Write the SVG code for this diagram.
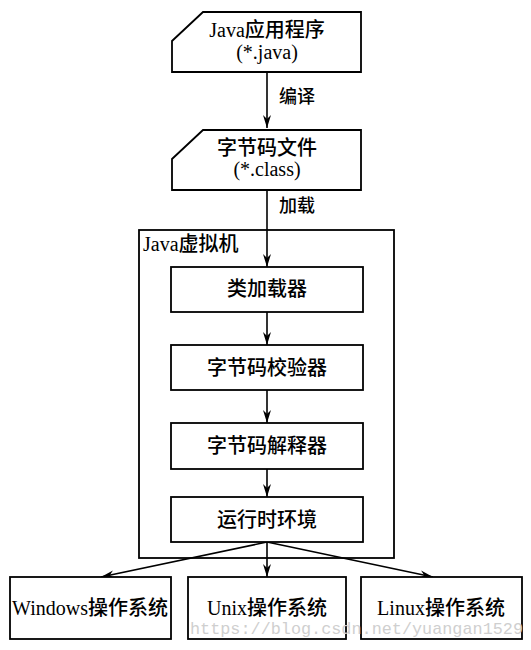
<svg xmlns="http://www.w3.org/2000/svg" width="531" height="650" viewBox="0 0 531 650">
<style>
.box{fill:#fff;stroke:#000;stroke-width:1.8}
.frame{fill:none;stroke:#000;stroke-width:1.8}
.t{font-family:"Liberation Serif",serif;font-size:20px;fill:#000;text-anchor:middle}
.s{text-anchor:start}
.c{font-family:"Noto Sans CJK SC",sans-serif;font-weight:500}
.lbl{font-family:"Noto Sans CJK SC",sans-serif;font-weight:500;font-size:18px;fill:#000}
.ln{fill:none;stroke:#000;stroke-width:1.6}
.wm{font-family:"Liberation Mono",monospace;font-size:17px;fill:#cfcfcf}
</style>
<defs>
<marker id="ah" viewBox="-14 -5 15 10" refX="0" refY="0" markerWidth="15" markerHeight="10" markerUnits="userSpaceOnUse" orient="auto">
<path d="M0,0 L-13,-4 L-9,0 L-13,4 Z" fill="#000"/>
</marker>
</defs>
<rect width="531" height="650" fill="#fff"/>
<g id="connectors">
<line class="ln" x1="267" y1="72" x2="267" y2="128" marker-end="url(#ah)"/>
<line class="ln" x1="267" y1="190" x2="267" y2="267" marker-end="url(#ah)"/>
<line class="ln" x1="267" y1="312" x2="267" y2="345" marker-end="url(#ah)"/>
<line class="ln" x1="267" y1="390" x2="267" y2="423" marker-end="url(#ah)"/>
<line class="ln" x1="267" y1="469" x2="267" y2="497" marker-end="url(#ah)"/>
<line class="ln" x1="267" y1="542" x2="101" y2="577" marker-end="url(#ah)"/>
<line class="ln" x1="267" y1="542" x2="267" y2="577" marker-end="url(#ah)"/>
<line class="ln" x1="267" y1="542" x2="433" y2="577" marker-end="url(#ah)"/>
<text class="lbl" x="279" y="103">编译</text>
<text class="lbl" x="279" y="212">加载</text>
</g>
<g id="java-source">
<path class="box" d="M203,12 L361,12 L361,72 L172,72 L172,41 Z"/>
<text class="t" x="267" y="37">Java<tspan class="c">应用程序</tspan></text>
<text class="t" x="267" y="59">(*.java)</text>
</g>
<g id="class-file">
<path class="box" d="M203,130 L361,130 L361,190 L172,190 L172,159 Z"/>
<text class="t" x="267" y="155"><tspan class="c">字节码文件</tspan></text>
<text class="t" x="267" y="176">(*.class)</text>
</g>
<g id="jvm">
<rect class="frame" x="139" y="230" width="255" height="328"/>
<text class="t s" x="143" y="251">Java<tspan class="c">虚拟机</tspan></text>
</g>
<g id="class-loader">
<rect class="box" x="171" y="267" width="192" height="45"/>
<text class="t" x="267" y="296"><tspan class="c">类加载器</tspan></text>
</g>
<g id="bytecode-verifier">
<rect class="box" x="171" y="345" width="192" height="45"/>
<text class="t" x="267" y="375"><tspan class="c">字节码校验器</tspan></text>
</g>
<g id="bytecode-interpreter">
<rect class="box" x="171" y="423" width="192" height="46"/>
<text class="t" x="267" y="453"><tspan class="c">字节码解释器</tspan></text>
</g>
<g id="runtime">
<rect class="box" x="171" y="497" width="192" height="45"/>
<text class="t" x="267" y="527"><tspan class="c">运行时环境</tspan></text>
</g>
<g id="windows">
<rect class="box" x="10" y="577" width="161" height="62"/>
<text class="t" x="90" y="615">Windows<tspan class="c">操作系统</tspan></text>
</g>
<g id="unix">
<rect class="box" x="188" y="577" width="158" height="62"/>
<text class="t" x="267" y="615">Unix<tspan class="c">操作系统</tspan></text>
</g>
<g id="linux">
<rect class="box" x="361" y="577" width="161" height="62"/>
<text class="t" x="441" y="615">Linux<tspan class="c">操作系统</tspan></text>
</g>
<text class="wm" x="190" y="634" textLength="333" lengthAdjust="spacingAndGlyphs">https://blog.csdn.net/yuangan1529</text>
</svg>
